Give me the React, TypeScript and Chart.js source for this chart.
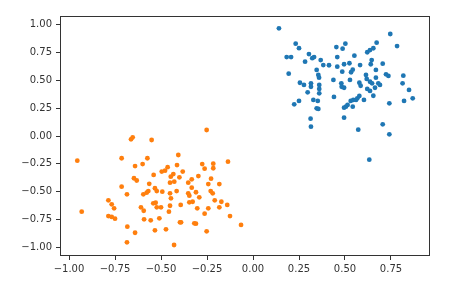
import React, { useEffect, useRef } from "react";
import { Chart, registerables } from "chart.js";

Chart.register(...registerables);

const blueX = [0.141,0.232,0.25,0.183,0.207,0.283,0.304,0.322,0.332,0.368,0.382,0.413,0.453,0.487,0.502,0.458,0.458,0.495,0.524,0.551,0.485,0.533,0.542,0.582,0.621,0.636,0.654,0.672,0.645,0.64,0.705,0.668,0.746,0.783,0.346,0.355,0.359,0.194,0.255,0.277,0.315,0.315,0.36,0.36,0.437,0.48,0.482,0.495,0.527,0.578,0.585,0.614,0.618,0.636,0.647,0.668,0.681,0.69,0.723,0.736,0.621,0.636,0.817,0.813,0.848,0.663,0.297,0.36,0.224,0.25,0.328,0.352,0.346,0.355,0.313,0.315,0.44,0.495,0.505,0.514,0.531,0.545,0.56,0.567,0.542,0.578,0.603,0.495,0.572,0.654,0.741,0.821,0.868,0.705,0.741,0.632];
const blueY = [0.968,0.83,0.79,0.71,0.71,0.668,0.737,0.7,0.71,0.683,0.638,0.636,0.8,0.785,0.83,0.71,0.623,0.645,0.654,0.722,0.578,0.573,0.596,0.638,0.753,0.773,0.789,0.839,0.683,0.645,0.65,0.594,0.917,0.809,0.594,0.549,0.524,0.56,0.479,0.459,0.474,0.443,0.459,0.423,0.504,0.474,0.443,0.434,0.504,0.479,0.452,0.549,0.513,0.488,0.474,0.524,0.474,0.459,0.555,0.54,0.423,0.405,0.542,0.474,0.414,0.434,0.393,0.384,0.285,0.315,0.324,0.315,0.249,0.243,0.156,0.084,0.351,0.255,0.264,0.279,0.315,0.324,0.324,0.339,0.264,0.36,0.324,0.165,0.057,0.362,0.294,0.315,0.339,0.105,0.015,-0.213];

const orangeX = [-0.955,-0.663,-0.654,-0.551,-0.714,-0.641,-0.6,-0.574,-0.647,-0.632,-0.714,-0.564,-0.54,-0.496,-0.478,-0.464,-0.406,-0.413,-0.433,-0.447,-0.382,-0.4,-0.451,-0.428,-0.352,-0.333,-0.533,-0.252,-0.276,-0.263,-0.216,-0.216,-0.136,-0.297,-0.228,-0.243,-0.183,-0.333,-0.352,-0.346,-0.31,-0.292,-0.23,-0.219,-0.346,-0.328,-0.208,-0.172,-0.14,-0.183,-0.303,-0.243,-0.263,-0.125,-0.391,-0.31,-0.252,-0.065,-0.786,-0.768,-0.755,-0.931,-0.786,-0.768,-0.75,-0.685,-0.596,-0.578,-0.569,-0.523,-0.493,-0.451,-0.446,-0.415,-0.542,-0.529,-0.523,-0.5,-0.451,-0.393,-0.609,-0.594,-0.457,-0.592,-0.556,-0.509,-0.397,-0.683,-0.641,-0.533,-0.473,-0.685,-0.429,-0.319];
const orangeY = [-0.222,-0.03,-0.012,-0.036,-0.2,-0.27,-0.252,-0.2,-0.38,-0.4,-0.456,-0.43,-0.35,-0.32,-0.312,-0.28,-0.171,-0.261,-0.342,-0.366,-0.32,-0.372,-0.42,-0.411,-0.42,-0.39,-0.47,0.054,-0.252,-0.294,-0.249,-0.29,-0.231,-0.36,-0.384,-0.432,-0.432,-0.465,-0.515,-0.537,-0.506,-0.551,-0.495,-0.515,-0.596,-0.591,-0.578,-0.591,-0.62,-0.641,-0.65,-0.65,-0.698,-0.72,-0.776,-0.788,-0.857,-0.8,-0.578,-0.614,-0.65,-0.68,-0.72,-0.728,-0.743,-0.524,-0.524,-0.51,-0.495,-0.495,-0.501,-0.515,-0.56,-0.495,-0.605,-0.6,-0.641,-0.641,-0.627,-0.62,-0.641,-0.672,-0.68,-0.749,-0.758,-0.74,-0.776,-0.815,-0.87,-0.848,-0.839,-0.956,-0.98,-0.785];

const xTicks = [-1, -0.75, -0.5, -0.25, 0, 0.25, 0.5, 0.75];
const yTicks = [-1, -0.75, -0.5, -0.25, 0, 0.25, 0.5, 0.75, 1];

const fmt = (v: number) => v.toFixed(2).replace("-", "\u2212");

const framePlugin = {
  id: "frame",
  afterDraw(chart: any) {
    const { ctx, chartArea } = chart;
    ctx.save();
    ctx.strokeStyle = "#333";
    ctx.lineWidth = 1;
    ctx.strokeRect(
      Math.round(chartArea.left) + 0.5,
      Math.round(chartArea.top) + 0.5,
      Math.round(chartArea.right - chartArea.left) - 1,
      Math.round(chartArea.bottom - chartArea.top) - 1
    );
    ctx.restore();
  },
};

export default function App() {
  const ref = useRef<HTMLCanvasElement>(null);
  useEffect(() => {
    if (!ref.current) return;
    const font = { family: "DejaVu Sans", size: 10 };
    const chart = new Chart(ref.current, {
      type: "scatter",
      data: {
        datasets: [
          {
            data: blueX.map((x, i) => ({ x, y: blueY[i] })),
            backgroundColor: "#1f77b4",
            borderWidth: 0,
            pointRadius: 2.4,
          },
          {
            data: orangeX.map((x, i) => ({ x, y: orangeY[i] })),
            backgroundColor: "#ff7f0e",
            borderWidth: 0,
            pointRadius: 2.4,
          },
        ],
      },
      options: {
        animation: false,
        responsive: false,
        layout: { padding: { top: 16, right: 44, left: 0, bottom: 0 } },
        plugins: { legend: { display: false }, tooltip: { enabled: false } },
        scales: {
          x: {
            type: "linear",
            min: -1.049,
            max: 0.962,
            border: { display: false },
            grid: { drawOnChartArea: false, drawTicks: true, tickLength: 4, color: "#333" },
            ticks: { color: "#333", font, padding: 3, maxRotation: 0, callback: (v: any) => fmt(Number(v)) },
            afterBuildTicks: (s: any) => { s.ticks = xTicks.map((v) => ({ value: v })); },
            afterFit: (s: any) => { s.height = 27; },
          },
          y: {
            type: "linear",
            min: -1.079,
            max: 1.079,
            border: { display: false },
            grid: { drawOnChartArea: false, drawTicks: true, tickLength: 4, color: "#333" },
            ticks: { color: "#333", font, padding: 4, callback: (v: any) => fmt(Number(v)) },
            afterBuildTicks: (s: any) => { s.ticks = yTicks.map((v) => ({ value: v })); },
            afterFit: (s: any) => { s.width = 60; },
          },
        },
      },
      plugins: [framePlugin],
    } as any);
    return () => chart.destroy();
  }, []);
  return (
    <div style={{ position: "fixed", left: 0, top: 0, width: 474, height: 283, background: "#fff" }}>
      <canvas ref={ref} width={474} height={283} style={{ width: 474, height: 283 }} />
    </div>
  );
}
